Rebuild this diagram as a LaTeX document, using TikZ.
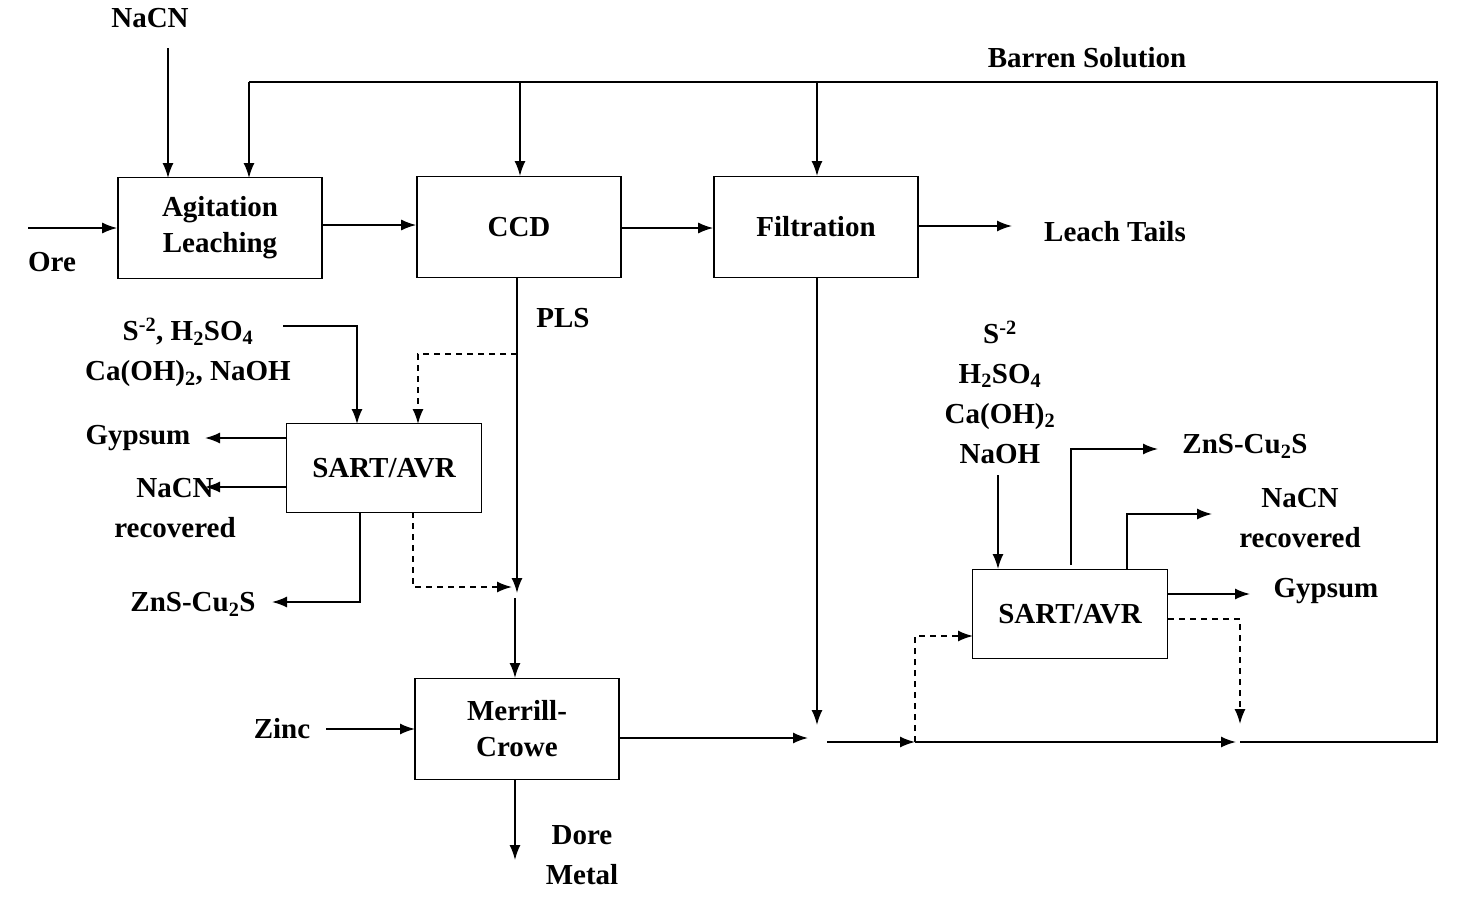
\documentclass[tikz,border=0pt]{standalone}
\usepackage{fontspec}
\setmainfont{Liberation Serif}
\usetikzlibrary{arrows.meta}
\begin{document}
\begin{tikzpicture}[x=1pt,y=-1pt,
  ln/.style={line width=1.6pt},
  ar/.style={ln,-{Latex[length=15pt,width=11pt]}},
  da/.style={ar,dashed,dash pattern=on 6pt off 5pt},
  dl/.style={ln,dashed,dash pattern=on 6pt off 5pt},
  box/.style={draw,line width=1.6pt,minimum width=204pt,minimum height=101pt,align=center,font=\fontsize{29}{36}\selectfont\bfseries},
  sbox/.style={box,minimum width=195pt,minimum height=89pt},
  lb/.style={align=center,font=\fontsize{29}{40}\selectfont\bfseries,inner sep=0pt}]
\useasboundingbox (0,0) rectangle (1460,924);
\node[box] (al) at (220,228) {Agitation\\Leaching};
\node[box] (ccd) at (519,227) {CCD};
\node[box] (fil) at (816,227) {Filtration};
\node[sbox] (sl) at (384,468) {SART/AVR};
\node[box] (mc) at (517,729) {Merrill-\\Crowe};
\node[sbox] (sr) at (1070,614) {SART/AVR};
% labels
\node[lb] (nacn) at (150,18) {NaCN};
\node[lb] (bar) at (1087,58) {Barren Solution};
\node[lb] (ore) at (52,262) {Ore};
\node[lb] (lt) at (1115,232) {Leach Tails};
\node[lb] (pls) at (563,318) {PLS};
\node[lb] (rl) at (188,352) {S\textsuperscript{-2}, H\textsubscript{2}SO\textsubscript{4}\\Ca(OH)\textsubscript{2}, NaOH};
\node[lb] (gl) at (138,438) {Gypsum};
\node[lb] (nl) at (175,508) {NaCN\\recovered};
\node[lb] (zl) at (193,604) {ZnS-Cu\textsubscript{2}S};
\node[lb] (zinc) at (282,729) {Zinc};
\node[lb] (dore) at (582,855) {Dore\\Metal};
\node[lb] (rr) at (1000,392) {S\textsuperscript{-2}\\H\textsubscript{2}SO\textsubscript{4}\\Ca(OH)\textsubscript{2}\\NaOH};
\node[lb] (zr) at (1245,446) {ZnS-Cu\textsubscript{2}S};
\node[lb] (nr) at (1300,518) {NaCN\\recovered};
\node[lb] (gr) at (1326,591) {Gypsum};
% coordinates
\coordinate (n0) at (168,48);
\coordinate (b1) at (249,82); \coordinate (b2) at (520,82); \coordinate (b3) at (817,82); \coordinate (b4) at (1437,82);
\coordinate (o0) at (28,228);
\coordinate (p1) at (517,354); \coordinate (p2) at (517,593); \coordinate (p3) at (515,598);
\coordinate (j1) at (817,742); \coordinate (j2) at (915,742); \coordinate (j3) at (1240,742); \coordinate (b5) at (1437,742);
% connectors
\draw[ar] (n0) -- (168,178);
\draw[ln] (b1) -- (b4) -- (b5) -- (j3);
\draw[ar] (b1) -- (249,178);
\draw[ar] (b2) -- (520,176);
\draw[ar] (b3) -- (817,176);
\draw[ar] (o0) -- (al.west|-o0);
\draw[ar] (al.east|-0,225) -- (ccd.west|-0,225);
\draw[ar] (ccd.east|-0,228) -- (fil.west|-0,228);
\draw[ar] (fil.east|-0,226) -- (1012,226);
\draw[ar] (517,277) -- (p2);
\draw[da] (p1) -- (418,354) -- (418,424);
\draw[ar] (283,326) -- (357,326) -- (357,424);
\draw[ar] (287,438) -- (205,438);
\draw[ar] (287,487) -- (205,487);
\draw[ar] (360,512) -- (360,602) -- (272,602);
\draw[da] (413,512) -- (413,587) -- (512,587);
\draw[ar] (p3) -- (515,678);
\draw[ar] (326,729) -- (415,729);
\draw[ar] (515,780) -- (515,860);
\draw[ar] (620,738) -- (808,738);
\draw[ar] (817,277) -- (817,725);
\draw[ar] (827,742) -- (j2);
\draw[ar] (j2) -- (1236,742);
\draw[da] (j2) -- (915,636) -- (973,636);
\draw[ar] (998,475) -- (998,569);
\draw[ar] (1071,565) -- (1071,449) -- (1158,449);
\draw[ar] (1127,569) -- (1127,514) -- (1212,514);
\draw[ar] (1168,594) -- (1250,594);
\draw[da] (1168,619) -- (1240,619) -- (1240,724);
\end{tikzpicture}
\end{document}
